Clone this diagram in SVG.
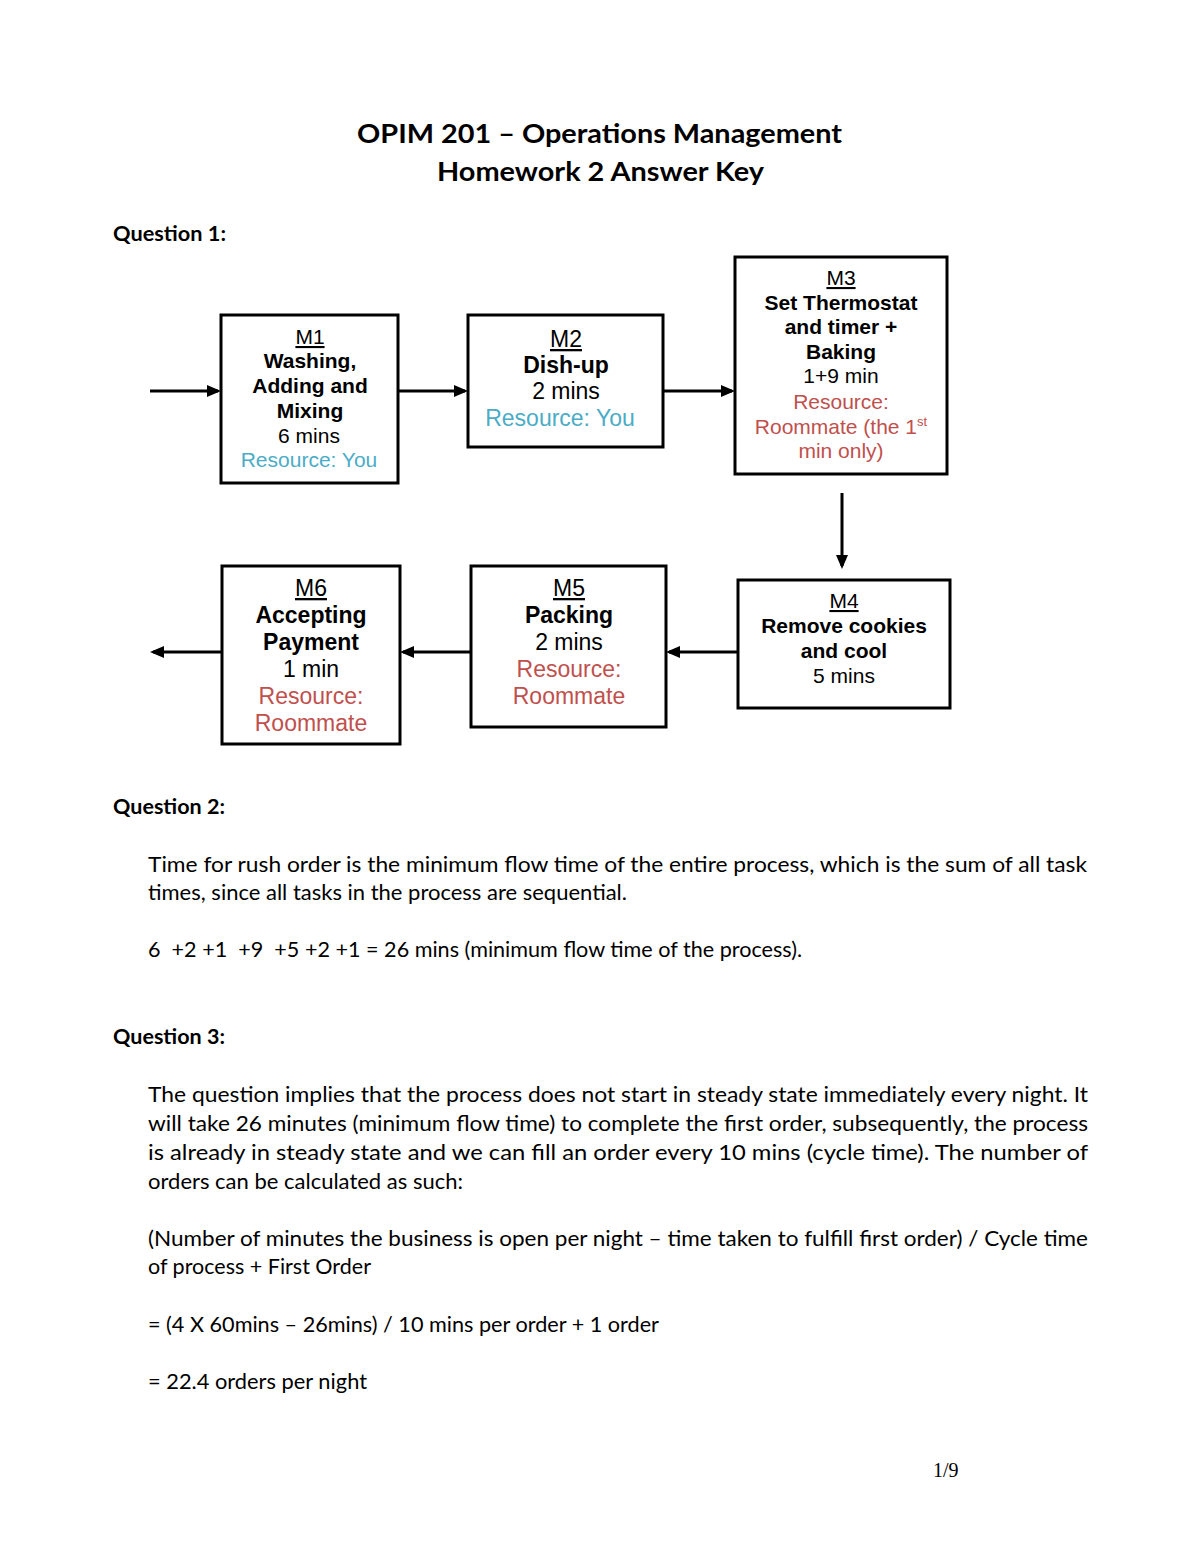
<svg xmlns="http://www.w3.org/2000/svg" width="1200" height="1553" viewBox="0 0 1200 1553">
<style>
.doc{font-family:Lato,"Liberation Sans",sans-serif;font-size:20.5px;fill:#000}
.docb{font-family:Lato,"Liberation Sans",sans-serif;font-size:20.5px;font-weight:bold;fill:#000}
.title{font-family:Lato,"Liberation Sans",sans-serif;font-size:26px;font-weight:bold;fill:#000}
.box{fill:#fff;stroke:#000;stroke-width:3}
.n{font-family:"Liberation Sans",Arial,sans-serif;font-size:21px;fill:#000;text-anchor:middle}
.nb{font-weight:bold}
.u{text-decoration:underline}
.cy{fill:#4BACC6}
.rd{fill:#C0504D}
.big{font-size:23px}
.conn{stroke:#000;stroke-width:3;fill:none;marker-end:url(#ah)}
</style>
<defs>
<marker id="ah" markerUnits="userSpaceOnUse" markerWidth="14" markerHeight="12" refX="11" refY="6" orient="auto">
<path d="M0,0 L14,6 L0,12 z" fill="#000"/>
</marker>
</defs>
<rect width="1200" height="1553" fill="#fff"/>

<g id="header">
<text class="title" x="357" y="143" textLength="485" lengthAdjust="spacingAndGlyphs">OPIM 201 – Operations Management</text>
<text class="title" x="437" y="181" textLength="327" lengthAdjust="spacingAndGlyphs">Homework 2 Answer Key</text>
<text class="docb" x="113" y="241" textLength="113" lengthAdjust="spacingAndGlyphs">Question 1:</text>
</g>

<g id="connectors">
<line class="conn" x1="150" y1="391" x2="218" y2="391"/>
<line class="conn" x1="398" y1="391" x2="465" y2="391"/>
<line class="conn" x1="663" y1="391" x2="732" y2="391"/>
<line class="conn" x1="842" y1="493" x2="842" y2="566"/>
<line class="conn" x1="738" y1="652" x2="669" y2="652"/>
<line class="conn" x1="471" y1="652" x2="403" y2="652"/>
<line class="conn" x1="222" y1="652" x2="153" y2="652"/>
</g>

<g id="M1">
<rect class="box" x="221" y="315" width="177" height="168"/>
<text class="n u" x="310" y="344">M1</text>
<text class="n nb" x="310" y="368">Washing,</text>
<text class="n nb" x="310" y="393">Adding and</text>
<text class="n nb" x="310" y="418">Mixing</text>
<text class="n" x="309" y="443">6 mins</text>
<text class="n cy" x="309" y="467">Resource: You</text>
</g>

<g id="M2">
<rect class="box" x="468" y="315" width="195" height="132"/>
<text class="n big u" x="566" y="347">M2</text>
<text class="n big nb" x="566" y="373">Dish-up</text>
<text class="n big" x="566" y="399">2 mins</text>
<text class="n big cy" x="560" y="426">Resource: You</text>
</g>

<g id="M3">
<rect class="box" x="735" y="257" width="212" height="217"/>
<text class="n u" x="841" y="285">M3</text>
<text class="n nb" x="841" y="310">Set Thermostat</text>
<text class="n nb" x="841" y="334">and timer +</text>
<text class="n nb" x="841" y="359">Baking</text>
<text class="n" x="841" y="383">1+9 min</text>
<text class="n rd" x="841" y="409">Resource:</text>
<text class="n rd" x="841" y="434">Roommate (the 1<tspan font-size="13" dy="-8">st</tspan></text>
<text class="n rd" x="841" y="458">min only)</text>
</g>

<g id="M4">
<rect class="box" x="738" y="580" width="212" height="128"/>
<text class="n u" x="844" y="608">M4</text>
<text class="n nb" x="844" y="633">Remove cookies</text>
<text class="n nb" x="844" y="658">and cool</text>
<text class="n" x="844" y="683">5 mins</text>
</g>

<g id="M5">
<rect class="box" x="471" y="566" width="195" height="161"/>
<text class="n big u" x="569" y="596">M5</text>
<text class="n big nb" x="569" y="623">Packing</text>
<text class="n big" x="569" y="650">2 mins</text>
<text class="n big rd" x="569" y="677">Resource:</text>
<text class="n big rd" x="569" y="704">Roommate</text>
</g>

<g id="M6">
<rect class="box" x="222" y="566" width="178" height="178"/>
<text class="n big u" x="311" y="596">M6</text>
<text class="n big nb" x="311" y="623">Accepting</text>
<text class="n big nb" x="311" y="650">Payment</text>
<text class="n big" x="311" y="677">1 min</text>
<text class="n big rd" x="311" y="704">Resource:</text>
<text class="n big rd" x="311" y="731">Roommate</text>
</g>

<g id="body">
<text class="docb" x="113" y="814" textLength="112" lengthAdjust="spacingAndGlyphs">Question 2:</text>
<text class="doc" x="148" y="872" textLength="939" lengthAdjust="spacingAndGlyphs">Time for rush order is the minimum flow time of the entire process, which is the sum of all task</text>
<text class="doc" x="148" y="900" textLength="479" lengthAdjust="spacingAndGlyphs">times, since all tasks in the process are sequential.</text>
<text class="doc" x="148" y="957" textLength="654" lengthAdjust="spacingAndGlyphs" xml:space="preserve">6  +2 +1  +9  +5 +2 +1 = 26 mins (minimum flow time of the process).</text>
<text class="docb" x="113" y="1044" textLength="112" lengthAdjust="spacingAndGlyphs">Question 3:</text>
<text class="doc" x="148" y="1102" textLength="940" lengthAdjust="spacingAndGlyphs">The question implies that the process does not start in steady state immediately every night. It</text>
<text class="doc" x="148" y="1131" textLength="940" lengthAdjust="spacingAndGlyphs">will take 26 minutes (minimum flow time) to complete the first order, subsequently, the process</text>
<text class="doc" x="148" y="1160" textLength="940" lengthAdjust="spacingAndGlyphs">is already in steady state and we can fill an order every 10 mins (cycle time). The number of</text>
<text class="doc" x="148" y="1189" textLength="315" lengthAdjust="spacingAndGlyphs">orders can be calculated as such:</text>
<text class="doc" x="148" y="1246" textLength="940" lengthAdjust="spacingAndGlyphs">(Number of minutes the business is open per night – time taken to fulfill first order) / Cycle time</text>
<text class="doc" x="148" y="1274" textLength="223" lengthAdjust="spacingAndGlyphs">of process + First Order</text>
<text class="doc" x="148" y="1332" textLength="511" lengthAdjust="spacingAndGlyphs">= (4 X 60mins – 26mins) / 10 mins per order + 1 order</text>
<text class="doc" x="148" y="1389" textLength="219" lengthAdjust="spacingAndGlyphs">= 22.4 orders per night</text>
<text x="933" y="1477" font-family="'Liberation Serif',serif" font-size="20" fill="#000">1/9</text>
</g>
</svg>
